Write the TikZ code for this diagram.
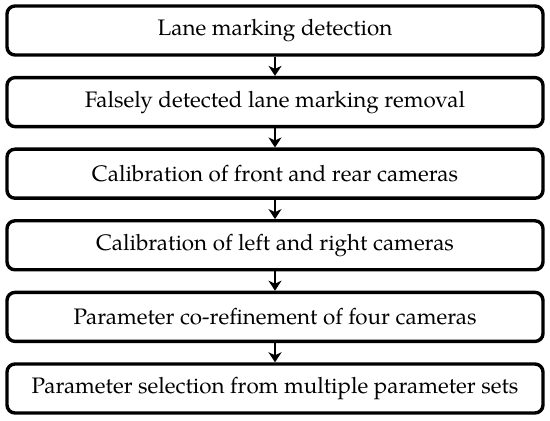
\documentclass[tikz,border=0pt]{standalone}
\usepackage{fontspec}
\setmainfont{TeX Gyre Pagella}
\usetikzlibrary{arrows.meta}
\tikzset{
  stepbox/.style={draw=black, line width=1.7pt, rounded corners=4pt, minimum width=268pt, minimum height=24.5pt, inner sep=0pt, font=\fontsize{11.2}{13}\selectfont},
  flow/.style={line width=1.1pt, -{Stealth[length=5pt,width=6.5pt,inset=1.5pt]}}
}
\begin{document}
\begin{tikzpicture}[x=0.5pt,y=-0.5pt]
\useasboundingbox (0,0) rectangle (550,421);
\node[stepbox] (b1) at (275,30.5) {Lane marking detection};
\node[stepbox] (b2) at (275,102.1) {Falsely detected lane marking removal};
\node[stepbox] (b3) at (275,173.7) {Calibration of front and rear cameras};
\node[stepbox] (b4) at (275,245.3) {Calibration of left and right cameras};
\node[stepbox] (b5) at (275,316.9) {Parameter co-refinement of four cameras};
\node[stepbox] (b6) at (275,388.5) {Parameter selection from multiple parameter sets};
\draw[flow] (b1) -- (b2);
\draw[flow] (b2) -- (b3);
\draw[flow] (b3) -- (b4);
\draw[flow] (b4) -- (b5);
\draw[flow] (b5) -- (b6);
\end{tikzpicture}
\end{document}
